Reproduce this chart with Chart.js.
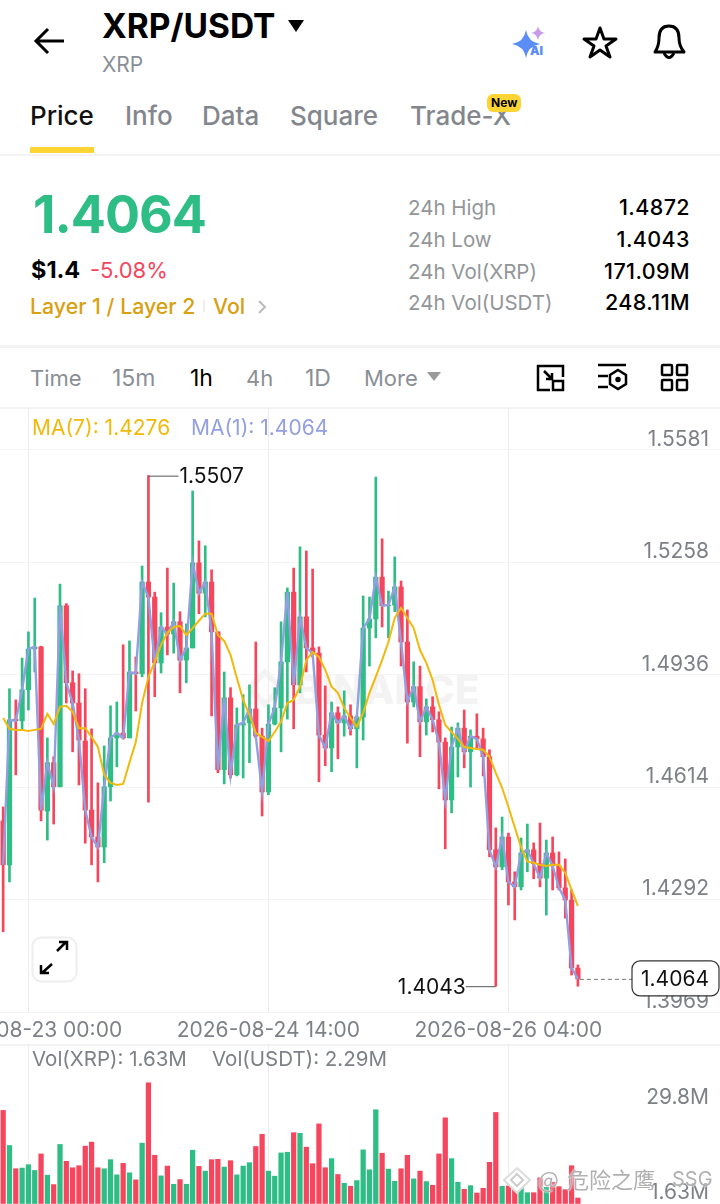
<!DOCTYPE html>
<html lang="en">
<head>
<meta charset="UTF-8">
<title>XRP/USDT</title>
<script src="https://cdn.jsdelivr.net/npm/chart.js@4/dist/chart.umd.min.js"></script>
<style>
  * { box-sizing: border-box; }
  html, body { margin: 0; padding: 0; background: #fff; }
  body { position: relative; width: 720px; height: 1204px; overflow: hidden; font-family: Inter, sans-serif; color: #000; }
  .t { position: absolute; white-space: nowrap; line-height: 1; }
  .line { position: absolute; left: 0; width: 720px; background: #f3f3f3; }
  .gray { color: #8a8f96; }
  .tab { font-size: 26px; top: 103px; color: #83878d; font-weight: 500; }
  .tf { font-size: 22px; top: 367px; color: #8a8f96; }
  .lbl { font-size: 20.500px; left: 408px; color: #929699; }
  .val { font-size: 21.500px; right: 30px; font-weight: 500; letter-spacing: .4px; }
  svg { position: absolute; overflow: visible; }
  #priceBox { position: absolute; left: 0; top: 408px; width: 720px; height: 636px; }
  #volBox { position: absolute; left: 0; top: 1044px; width: 720px; height: 160px; }
  .mark { position: absolute; left: 295px; top: 668px; font-size: 40px; font-weight: 800; letter-spacing: 0; color: #f3f3f3; line-height: 1.1; }
  .sig { position: absolute; top: 1165px; font-family: "Noto Sans CJK SC", sans-serif; font-size: 22px; color: rgba(150,150,150,.75); text-shadow: 0 0 2px #fff, 0 0 2px #fff; line-height: 1.2; white-space: nowrap; }
</style>
</head>
<body>
  <!-- app header -->
  <svg style="left:0;top:0" width="720" height="160">
    <path d="M64 41H36M48 29L36 41L48 53" fill="none" stroke="#000" stroke-width="3"/>
    <path d="M288 20H304L296 32Z" fill="#000"/>
    <path d="M526 30Q528 42 540 44Q528 46 526 58Q524 46 512 44Q524 42 526 30Z" fill="#5b8df6"/>
    <path d="M538 26Q539 32 545 33Q539 34 538 40Q537 34 531 33Q537 32 538 26Z" fill="#c79be8"/>
    <path d="M600 28L604 39L616 39L606 46L610 57L600 50L590 57L594 46L584 39L596 39Z" fill="none" stroke="#000" stroke-width="3" stroke-linejoin="round"/>
    <path d="M655 52Q659 46 659 38Q659 26 669 26Q679 26 679 38Q679 46 684 52Z" fill="none" stroke="#000" stroke-width="3" stroke-linejoin="round"/>
    <path d="M664 53Q669 62 674 53" fill="none" stroke="#000" stroke-width="3"/>
    <rect x="30" y="147" width="64" height="6" fill="#fcd535"/>
  </svg>
  <div class="t" style="left:102px;top:10px;font-size:33.500px;font-weight:700">XRP/USDT</div>
  <div class="t gray" style="left:102px;top:54px;font-size:21px">XRP</div>
  <div class="t" style="left:530px;top:45px;font-size:12px;font-weight:900;color:#5b8df6">AI</div>
  <div class="t tab" style="left:30px;color:#111">Price</div>
  <div class="t tab" style="left:125px">Info</div>
  <div class="t tab" style="left:202px">Data</div>
  <div class="t tab" style="left:290px">Square</div>
  <div class="t tab" style="left:410px">Trade-X</div>
  <svg style="left:0;top:0" width="720" height="160"><rect x="487" y="94" width="34" height="18" rx="6" fill="#fcd535"/></svg>
  <div class="t" style="left:491px;top:97px;font-size:12px;font-weight:700">New</div>
  <div class="line" style="top:154px;height:2px"></div>

  <!-- ticker block -->
  <div class="t" style="left:33px;top:189px;font-size:52px;font-weight:700;letter-spacing:-1px;color:#2ebd85">1.4064</div>
  <div class="t" style="left:31px;top:258px;font-size:23.500px;font-weight:700">$1.4</div>
  <div class="t" style="left:90px;top:259px;font-size:22px;color:#f6465d">-5.08%</div>
  <div class="t" style="left:30px;top:296px;font-size:21.300px;font-weight:500;color:#d9a011">Layer 1 / Layer 2</div>
  <div class="t" style="left:213px;top:296px;font-size:21.300px;font-weight:500;color:#d9a011">Vol</div>
  <svg style="left:0;top:290px" width="300" height="40">
    <path d="M204 10V22" stroke="#eee" stroke-width="2"/>
    <path d="M259 11L265 17L259 23" fill="none" stroke="#bbb" stroke-width="2"/>
  </svg>
  <div class="t lbl" style="top:198px">24h High</div>
  <div class="t lbl" style="top:230px">24h Low</div>
  <div class="t lbl" style="top:262px">24h Vol(XRP)</div>
  <div class="t lbl" style="top:293px">24h Vol(USDT)</div>
  <div class="t val" style="top:197px">1.4872</div>
  <div class="t val" style="top:229px">1.4043</div>
  <div class="t val" style="top:261px">171.09M</div>
  <div class="t val" style="top:292px">248.11M</div>
  <div class="line" style="top:345px;height:3px"></div>

  <!-- timeframe row -->
  <div class="t tf" style="left:30px">Time</div>
  <div class="t tf" style="left:112px;font-size:23px">15m</div>
  <div class="t tf" style="left:190px;font-size:23px;color:#000">1h</div>
  <div class="t tf" style="left:246px">4h</div>
  <div class="t tf" style="left:305px;font-size:23px">1D</div>
  <div class="t tf" style="left:364px">More</div>
  <svg style="left:0;top:360px" width="720" height="40">
    <path d="M427 12H441L434 21Z" fill="#9a9a9a"/>
    <g fill="none" stroke="#000" stroke-width="2.5">
      <path d="M538 18V6H563V17M538 18V30H550"/>
      <rect x="553" y="21" width="10" height="9"/>
      <path d="M544 11L552 19M552 13V19H546"/>
      <path d="M598 5H626M598 16H608M598 27H608"/>
      <path d="M618 10L626 15V24L618 29L610 24V15Z"/>
      <circle cx="618" cy="19.500" r="1.500"/>
      <rect x="662" y="5" width="10" height="10" rx="1"/><rect x="677" y="5" width="10" height="10" rx="1"/>
      <rect x="662" y="20" width="10" height="10" rx="1"/><rect x="677" y="20" width="10" height="10" rx="1"/>
    </g>
  </svg>
  <div class="line" style="top:407px;height:2px"></div>

  <svg style="left:0;top:0" width="720" height="720"><path d="M265 672L281 688L265 704L249 688Z" fill="none" stroke="#f3f3f3" stroke-width="6"/></svg>
  <div class="mark">BINANCE</div>

  <div id="priceBox"><canvas id="priceChart"></canvas></div>
  <div id="volBox"><canvas id="volChart"></canvas></div>

  <div class="t" style="left:32px;top:417px;font-size:21px;color:#f0b90b">MA(7): 1.4276</div>
  <div class="t" style="left:191px;top:417px;font-size:21px;color:#929fe0">MA(1): 1.4064</div>
  <div class="t gray" style="left:32px;top:1049px;font-size:20.500px;color:#7d8186">Vol(XRP): 1.63M</div>
  <div class="t gray" style="left:212px;top:1049px;font-size:20.500px;color:#7d8186">Vol(USDT): 2.29M</div>

  <div class="line" style="top:1044px;height:2px"></div>

  <!-- expand button -->
  <svg style="left:0;top:930px" width="100" height="60">
    <rect x="32.500" y="7.500" width="44" height="44" rx="9" fill="#fff" stroke="#eee" stroke-width="2"/>
    <path d="M57 21L66 12M59 12H67V20M52 34L42 43M41 35V43H49" fill="none" stroke="#000" stroke-width="2.500"/>
  </svg>

  <svg style="left:0;top:1160px" width="720" height="44">
    <path d="M517 8L530 20L517 33L504 20Z" fill="#fff" stroke="#ddd" stroke-width="2"/>
    <path d="M517 14L523 20L517 26L511 20Z" fill="none" stroke="#ccc" stroke-width="2"/>
  </svg>
  <div class="sig" style="left:538px">@</div>
  <div class="sig" style="left:567px">危险之鹰</div>
  <div class="sig" style="left:672px;font-size:20px;top:1167px;font-family:Inter,sans-serif">SSG</div>

<script>
  // one hourly candle per entry
  const opens = [1.4517,1.4391,1.4809,1.4804,1.4893,1.5010,1.5016,1.4545,1.4684,1.4615,1.5134,1.4913,1.4855,1.4746,1.4548,1.4471,1.4442,1.4615,1.4755,1.4769,1.4755,1.4944,1.4939,1.5202,1.5159,1.4970,1.5073,1.5053,1.5088,1.4978,1.5013,1.5257,1.5170,1.5202,1.5059,1.4664,1.4870,1.4649,1.4792,1.4798,1.4838,1.4760,1.4600,1.4795,1.4841,1.4973,1.5173,1.4907,1.5102,1.5013,1.4998,1.4763,1.4726,1.4827,1.4798,1.4818,1.4781,1.4815,1.5070,1.5096,1.5216,1.5134,1.5136,1.5188,1.5030,1.4858,1.4902,1.4801,1.4844,1.4807,1.4743,1.4577,1.4729,1.4783,1.4715,1.4760,1.4752,1.4701,1.4434,1.4385,1.4471,1.4342,1.4328,1.4425,1.4434,1.4394,1.4353,1.4425,1.4388,1.4325,1.4290,1.4095];
  const closes = [1.4391,1.4807,1.4804,1.4893,1.5010,1.5016,1.4548,1.4684,1.4615,1.5134,1.4913,1.4855,1.4749,1.4548,1.4471,1.4442,1.4615,1.4755,1.4769,1.4755,1.4944,1.4939,1.5202,1.5159,1.4970,1.5073,1.5053,1.5088,1.4978,1.5013,1.5257,1.5170,1.5202,1.5059,1.4664,1.4870,1.4649,1.4792,1.4798,1.4838,1.4760,1.4600,1.4795,1.4841,1.4973,1.5173,1.4907,1.5102,1.5013,1.4998,1.4763,1.4726,1.4827,1.4798,1.4818,1.4781,1.4815,1.5070,1.5096,1.5216,1.5134,1.5136,1.5188,1.5030,1.4858,1.4902,1.4801,1.4844,1.4807,1.4743,1.4577,1.4729,1.4783,1.4715,1.4760,1.4752,1.4701,1.4434,1.4385,1.4471,1.4342,1.4328,1.4425,1.4434,1.4394,1.4353,1.4425,1.4388,1.4325,1.4290,1.4095,1.4064];
  const highs = [1.4557,1.4896,1.4864,1.4984,1.5059,1.5156,1.5018,1.4755,1.4701,1.5196,1.5140,1.4947,1.4939,1.4896,1.4781,1.4626,1.4732,1.4847,1.4858,1.5022,1.5033,1.4987,1.5248,1.5507,1.5173,1.5114,1.5242,1.5199,1.5117,1.5082,1.5463,1.5320,1.5306,1.5237,1.5059,1.4944,1.4899,1.4841,1.4879,1.4907,1.5030,1.4783,1.4850,1.4899,1.5088,1.5185,1.5242,1.5303,1.5291,1.5239,1.5016,1.4904,1.4858,1.4844,1.4890,1.4850,1.4821,1.5162,1.5159,1.5503,1.5326,1.5176,1.5274,1.5205,1.5122,1.4973,1.4961,1.4867,1.4873,1.4830,1.4755,1.4786,1.4798,1.4835,1.4778,1.4824,1.4783,1.4721,1.4497,1.4528,1.4482,1.4371,1.4468,1.4508,1.4454,1.4511,1.4462,1.4471,1.4428,1.4408,1.4319,1.4104];
  const lows = [1.4199,1.4342,1.4649,1.4778,1.4835,1.4944,1.4517,1.4462,1.4508,1.4614,1.4855,1.4715,1.4620,1.4453,1.4391,1.4342,1.4397,1.4574,1.4672,1.4752,1.4755,1.4832,1.4930,1.4571,1.4873,1.4941,1.4993,1.4998,1.4884,1.4913,1.5013,1.5111,1.5102,1.4818,1.4655,1.4623,1.4640,1.4646,1.4640,1.4684,1.4755,1.4531,1.4592,1.4792,1.4715,1.4809,1.4781,1.4884,1.4944,1.4987,1.4629,1.4675,1.4658,1.4695,1.4760,1.4763,1.4669,1.4749,1.4961,1.5042,1.5073,1.5042,1.5117,1.4961,1.4740,1.4844,1.4701,1.4763,1.4772,1.4609,1.4437,1.4540,1.4643,1.4669,1.4614,1.4726,1.4646,1.4414,1.4043,1.4377,1.4276,1.4233,1.4319,1.4371,1.4351,1.4328,1.4247,1.4319,1.4319,1.4238,1.4075,1.4043];
  const ma7 = [1.4812,1.4781,1.4778,1.4778,1.4775,1.4778,1.4781,1.4824,1.4795,1.4844,1.4847,1.4830,1.4783,1.4783,1.4758,1.4729,1.4649,1.4626,1.4620,1.4623,1.4684,1.4743,1.4855,1.4930,1.4973,1.5022,1.5056,1.5073,1.5076,1.5050,1.5070,1.5091,1.5111,1.5111,1.5050,1.5033,1.4993,1.4927,1.4864,1.4821,1.4769,1.4758,1.4746,1.4772,1.4801,1.4855,1.4864,1.4902,1.4978,1.5001,1.4987,1.4950,1.4902,1.4884,1.4841,1.4812,1.4787,1.4827,1.4884,1.4930,1.4978,1.5030,1.5099,1.5128,1.5099,1.5070,1.5007,1.4970,1.4921,1.4850,1.4792,1.4772,1.4752,1.4729,1.4726,1.4723,1.4721,1.4701,1.4655,1.4612,1.4557,1.4499,1.4442,1.4400,1.4397,1.4391,1.4388,1.4391,1.4391,1.4368,1.4319,1.4273];
  const volumes = [27.6,17.2,10.3,10.5,11.5,9.8,14.7,8.4,5.6,17.5,12.5,10.6,11.2,17.0,18.2,10.6,10.3,13.0,8.5,11.9,9.1,7.0,17.9,35.8,14.3,8.2,11.1,5.7,7.1,5.7,15.8,11.0,9.6,13.0,13.1,10.8,12.7,8.5,11.1,12.1,16.9,20.5,9.6,8.1,15.0,15.2,21.0,20.8,16.7,11.8,23.6,10.6,13.3,8.6,6.0,5.1,6.8,15.9,10.0,27.8,14.9,10.2,6.6,10.3,14.3,7.3,9.6,6.5,5.4,14.7,25.4,13.3,6.3,4.2,5.3,3.1,4.5,12.2,27.0,5.1,5.2,7.6,5.8,3.2,3.2,7.6,4.8,6.3,5.0,4.1,11.2,1.63];

  const priceTicks = [1.5581, 1.5258, 1.4936, 1.4614, 1.4292, 1.3969];
  const volTicks = [29.8, 1.63];
  const timeSlots = [4, 42, 80];
  const timeLabels = ['2026-08-23 00:00', '2026-08-24 14:00', '2026-08-26 04:00'];
  const slotCount = 114; // empty slots to the right of the last candle

  const highPoint = { index: 23, value: 1.5507 };
  const lowPoint = { index: 78, value: 1.4043 };
  const lastPrice = 1.4064;

  const GREEN = '#2ebd85', RED = '#f6465d';
  const GRID_H = '#f4f4f4', GRID_V = '#ececec';
  const FONT = 'Inter, sans-serif';

  const categories = Array.from({ length: slotCount }, (_, i) => {
    const k = timeSlots.indexOf(i);
    return k < 0 ? '' : timeLabels[k];
  });
  const candleColors = closes.map((c, i) => (c >= opens[i] ? GREEN : RED));

  function xAxis(showLabels, height) {
    return {
      offset: true,
      border: { display: false },
      grid: {
        offset: false,
        drawTicks: false,
        color: GRID_V,
        lineWidth: ctx => (timeSlots.includes(ctx.index) ? 1 : 0)
      },
      ticks: {
        display: showLabels,
        autoSkip: false,
        maxRotation: 0,
        minRotation: 0,
        padding: 6,
        color: '#7d8186',
        font: { family: FONT, size: 21 },
        callback(value) { return this.getLabelForValue(value); }
      },
      afterFit(scale) {
        scale.height = height;
        scale.paddingLeft = scale.paddingRight = 0;
      }
    };
  }

  function yAxis(min, max, ticks, lineHeight, fmt, gridColor) {
    return {
      position: 'right',
      min, max,
      border: { display: false },
      grid: { drawTicks: false, color: gridColor },
      afterBuildTicks(scale) { scale.ticks = ticks.map(v => ({ value: v })); },
      afterFit(scale) {
        scale.width = 0;
        scale.paddingTop = scale.paddingBottom = 0;
      },
      ticks: {
        mirror: true,
        crossAlign: 'near',
        padding: -11, // mirrored right axis: text ends 11px inside the edge
        color: '#7d8186',
        font: { family: FONT, size: 21, lineHeight },
        // blank second line lifts the label above its grid line
        callback: v => [fmt(v), '']
      }
    };
  }

  // high / low call-outs and the last price tag
  const markers = {
    id: 'markers',
    afterDatasetsDraw(chart) {
      const { ctx, scales: { x, y } } = chart;
      ctx.save();
      ctx.font = '21px ' + FONT;
      ctx.textBaseline = 'middle';
      ctx.lineWidth = 1;

      const hx = x.getPixelForValue(highPoint.index), hy = y.getPixelForValue(highPoint.value);
      ctx.strokeStyle = '#555';
      ctx.beginPath(); ctx.moveTo(hx, hy + 0.5); ctx.lineTo(hx + 30, hy + 0.5); ctx.stroke();
      ctx.fillStyle = '#111';
      ctx.textAlign = 'left';
      ctx.fillText(highPoint.value.toFixed(4), hx + 31, hy + 1);

      const lx = x.getPixelForValue(lowPoint.index), ly = y.getPixelForValue(lowPoint.value);
      ctx.beginPath(); ctx.moveTo(lx, ly + 0.5); ctx.lineTo(lx - 30, ly + 0.5); ctx.stroke();
      ctx.textAlign = 'right';
      ctx.fillText(lowPoint.value.toFixed(4), lx - 30, ly + 1);

      const px = x.getPixelForValue(closes.length - 1), py = y.getPixelForValue(lastPrice);
      ctx.setLineDash([4, 3]);
      ctx.strokeStyle = '#777';
      ctx.beginPath(); ctx.moveTo(px + 2, py + 0.5); ctx.lineTo(632, py + 0.5); ctx.stroke();
      ctx.setLineDash([]);
      ctx.beginPath();
      ctx.roundRect(632, py - 18, 87, 35, 8);
      ctx.fillStyle = '#fff';
      ctx.fill();
      ctx.strokeStyle = '#333';
      ctx.lineWidth = 1.2;
      ctx.stroke();
      ctx.fillStyle = '#111';
      ctx.textAlign = 'right';
      ctx.fillText(lastPrice.toFixed(4), 709, py + 1);
      ctx.restore();
    }
  };

  Chart.defaults.animation = false;
  Chart.defaults.responsive = true;
  Chart.defaults.maintainAspectRatio = false;
  Chart.defaults.devicePixelRatio = 1;

  new Chart(document.getElementById('priceChart'), {
    type: 'bar',
    data: {
      labels: categories,
      datasets: [
        { type: 'line', data: closes, borderColor: '#929fe0', borderWidth: 2.4, pointRadius: 0, tension: 0, order: 2 },
        { type: 'line', data: ma7, borderColor: '#f0b90b', borderWidth: 2, pointRadius: 0, tension: 0, order: 1 },
        { data: opens.map((o, i) => [Math.min(o, closes[i]), Math.max(o, closes[i])]), backgroundColor: candleColors, barThickness: 4.6, grouped: false, order: 3 },
        { data: highs.map((h, i) => [lows[i], h]), backgroundColor: candleColors, barThickness: 2, grouped: false, order: 4 }
      ]
    },
    options: {
      layout: { padding: 0 },
      plugins: { legend: { display: false }, tooltip: { enabled: false } },
      scales: {
        x: xAxis(true, 32),
        y: yAxis(1.3969, 1.5701, priceTicks, 1, v => v.toFixed(4), GRID_H)
      }
    },
    plugins: [markers]
  });

  new Chart(document.getElementById('volChart'), {
    type: 'bar',
    data: {
      labels: categories,
      datasets: [{ data: volumes, backgroundColor: candleColors, barThickness: 4.6 }]
    },
    options: {
      layout: { padding: 0 },
      plugins: { legend: { display: false }, tooltip: { enabled: false } },
      scales: {
        x: xAxis(false, 0),
        y: yAxis(-0.15, 47.3, volTicks, 0.55, v => v + 'M', 'transparent')
      }
    }
  });
</script>
</body>
</html>
